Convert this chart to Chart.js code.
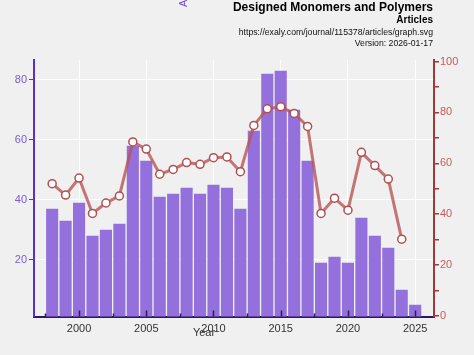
<!DOCTYPE html>
<html>
<head>
<meta charset="utf-8">
<script src="https://cdn.jsdelivr.net/npm/chart.js@4/dist/chart.umd.min.js"></script>
<style>
html,body{margin:0;padding:0;background:#f0f0f0;}
#wrap{width:474px;height:355px;position:relative;}
</style>
</head>
<body>
<div id="wrap"><canvas id="c" width="474" height="355"></canvas></div>
<script>
const years = [1998,1999,2000,2001,2002,2003,2004,2005,2006,2007,2008,2009,2010,2011,2012,2013,2014,2015,2016,2017,2018,2019,2020,2021,2022,2023,2024,2025];
const articles = [37,33,39,28,30,32,58,53,41,42,44,42,45,44,37,63,82,83,70,53,19,21,19,34,28,24,10,5];
const lineYears = [1998,1999,2000,2001,2002,2003,2004,2005,2006,2007,2008,2009,2010,2011,2012,2013,2014,2015,2016,2017,2018,2019,2020,2021,2022,2023,2024];
const lineValues = [52,47.5,54.2,40.3,44.4,47.2,68.4,65.6,55.7,57.6,60.3,59.6,62.2,62.5,56.7,74.9,81.4,82.2,79.6,74.5,40.3,46.3,41.6,64.3,59.1,53.8,30.2];
const xTicks = [2000,2005,2010,2015,2020,2025];
const leftTicks = [20,40,60,80];
const rightTicks = [0,10,20,30,40,50,60,70,80,90,100];
const titleText = "Designed Monomers and Polymers";
const subtitleText = "Articles";
const urlText = "https://exaly.com/journal/115378/articles/graph.svg";
const versionText = "Version: 2026-01-17";
const yTitle = "Articles";
const xTitle = "Year";

const FONT = "'Liberation Sans', Arial, sans-serif";

const decor = {
  id: 'decor',
  beforeDraw(chart) {
    const ctx = chart.ctx;
    ctx.save();
    ctx.fillStyle = '#f0f0f0';
    ctx.fillRect(0, 0, chart.width, chart.height);
    ctx.restore();
  },
  afterDatasetsDraw(chart) {
    const ctx = chart.ctx;
    const xs = chart.scales.x;
    const a = chart.chartArea;
    ctx.save();
    ctx.strokeStyle = '#2a1a5a';
    ctx.lineWidth = 1.5;
    for (let v = 1997.5; v <= 2026; v += 2.5) {
      const px = Math.round(xs.getPixelForValue(v)) + 0.5;
      const len = (v % 5 === 0) ? 6 : 3;
      ctx.beginPath();
      ctx.moveTo(px, a.bottom);
      ctx.lineTo(px, a.bottom - len);
      ctx.stroke();
    }
    ctx.restore();
  },
  afterDraw(chart) {
    const ctx = chart.ctx;
    ctx.save();
    ctx.fillStyle = '#000';
    ctx.textAlign = 'right';
    ctx.textBaseline = 'middle';
    ctx.font = 'bold 12px ' + FONT;
    ctx.fillText(titleText, 433, 8);
    ctx.font = 'bold 10px ' + FONT;
    ctx.fillText(subtitleText, 433, 20);
    ctx.font = '8.7px ' + FONT;
    ctx.fillStyle = '#111';
    ctx.fillText(urlText, 433, 33);
    ctx.fillText(versionText, 433, 44);
    ctx.textAlign = 'center';
    ctx.font = '11px ' + FONT;
    ctx.fillStyle = '#333';
    ctx.fillText(xTitle, 204, 333);
    ctx.translate(184, 7);
    ctx.rotate(-Math.PI / 2);
    ctx.textAlign = 'left';
    ctx.fillStyle = '#7050d0';
    ctx.fillText(yTitle, 0, 0);
    ctx.restore();
  }
};

new Chart(document.getElementById('c'), {
  data: {
    datasets: [
      {
        type: 'line',
        label: 'line',
        data: lineYears.map((y, i) => ({x: y, y: lineValues[i]})),
        yAxisID: 'y2',
        borderColor: 'rgba(185,85,85,0.8)',
        borderWidth: 3,
        pointRadius: 4,
        pointBackgroundColor: '#ffffff',
        pointBorderColor: '#b05050',
        pointBorderWidth: 1.5,
        tension: 0,
        order: 0
      },
      {
        type: 'bar',
        label: 'bars',
        data: years.map((y, i) => ({x: y, y: articles[i]})),
        yAxisID: 'y',
        backgroundColor: 'rgba(147,112,219,1)',
        borderWidth: 0,
        barPercentage: 0.9,
        categoryPercentage: 1,
        order: 1
      }
    ]
  },
  options: {
    responsive: false,
    animation: false,
    devicePixelRatio: 1,
    layout: { padding: { top: 60, left: 0, right: 0, bottom: 0 } },
    plugins: { legend: { display: false }, tooltip: { enabled: false }, title: { display: false } },
    scales: {
      x: {
        type: 'linear',
        offset: false,
        min: 1996.65,
        max: 2026.4,
        afterBuildTicks(s) { s.ticks = xTicks.map(v => ({value: v})); },
        afterFit(s) { s.height = 38.5; },
        grid: { offset: false, color: '#ffffff', lineWidth: 1, drawTicks: false },
        border: { color: '#2a1a5a', width: 2 },
        ticks: { color: '#333', font: { family: FONT, size: 11 }, padding: 6, callback: v => String(v), maxRotation: 0 }
      },
      y: {
        position: 'left',
        min: 1.1,
        max: 86.6,
        afterBuildTicks(s) { s.ticks = leftTicks.map(v => ({value: v})); },
        afterFit(s) { s.width = 34; },
        grid: { color: '#ffffff', lineWidth: 1, tickColor: '#5a2ecc', tickLength: 5 },
        border: { color: '#5a2ecc', width: 2 },
        ticks: { color: '#7a5cd6', font: { family: FONT, size: 11 }, padding: 2 }
      },
      y2: {
        position: 'right',
        min: -0.2,
        max: 100.6,
        afterBuildTicks(s) { s.ticks = rightTicks.map(v => ({value: v})); },
        afterFit(s) { s.width = 40; },
        grid: { drawOnChartArea: false, tickColor: '#a03a3a', tickLength: 5, lineWidth: 1.5 },
        border: { color: '#a03a3a', width: 2 },
        ticks: { color: '#c85a5a', font: { family: FONT, size: 11 }, padding: 1, callback: v => (v % 20 === 0 ? String(v) : '') }
      }
    }
  },
  plugins: [decor]
});
</script>
</body>
</html>
